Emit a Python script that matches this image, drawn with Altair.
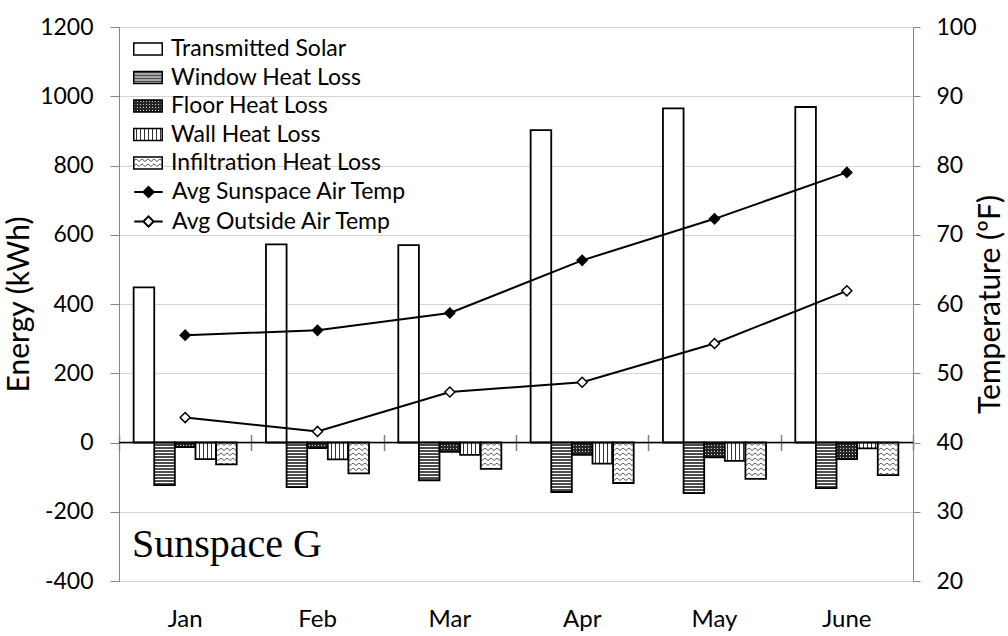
import altair as alt
import pandas as pd
import jinja2

# ---------------- data ----------------
months = ["Jan", "Feb", "Mar", "Apr", "May", "June"]
bar_series = ["Transmitted Solar", "Window Heat Loss", "Floor Heat Loss",
              "Wall Heat Loss", "Infiltration Heat Loss"]
transmitted_solar = [448, 572, 570, 902, 965, 969]
window_heat_loss = [-123, -129, -109, -143, -146, -132]
floor_heat_loss = [-13, -16, -27, -36, -43, -48]
wall_heat_loss = [-48, -49, -36, -61, -53, -17]
infiltration_heat_loss = [-63, -89, -76, -117, -105, -94]

temp_series = ["Avg Sunspace Air Temp", "Avg Outside Air Temp"]
sunspace_temp = [55.5, 56.2, 58.7, 66.3, 72.3, 79.0]
outside_temp = [43.6, 41.6, 47.3, 48.7, 54.3, 61.9]

energy_ticks = [-400, -200, 0, 200, 400, 600, 800, 1000, 1200]
temp_ticks = [20, 30, 40, 50, 60, 70, 80, 90, 100]
panel_name = ["Sunspace G"]

bar_values = [transmitted_solar, window_heat_loss, floor_heat_loss,
              wall_heat_loss, infiltration_heat_loss]
bar_df = pd.DataFrame([
    {"month": m, "series": s, "energy": v}
    for s, vals in zip(bar_series, bar_values)
    for m, v in zip(months, vals)
])
temp_df = pd.DataFrame([
    {"month": m, "series": s, "temp": v}
    for s, vals in zip(temp_series, [sunspace_temp, outside_temp])
    for m, v in zip(months, vals)
])
zero_df = pd.DataFrame({"energy": [0]})
label_df = pd.DataFrame({"name": panel_name})

# ---------------- styles ----------------
FONT = "Lato"
AXIS_GRAY = "#868686"
bar_fills = ["white", "url(#pWindow)", "url(#pFloor)", "url(#pWall)", "url(#pInfil)"]
RECT_SYMBOL = "M-1,-0.42H1V0.42H-1Z"
LINE_SYMBOL = "M-1,0H-0.36M0.36,0H1M0,-0.36L0.36,0L0,0.36L-0.36,0Z"

W, H = 794, 554
ZERO_FROM_TOP = H * 1200 / 1600
ZERO_FROM_BOTTOM = H - ZERO_FROM_TOP

x_sort = months

energy_axis = alt.Axis(
    values=energy_ticks, title="Energy (kWh)", orient="left",
    labelExpr="toString(datum.value)",
    labelFont=FONT, labelFontSize=23, labelColor="black", labelPadding=17,
    tickSize=9, tickColor=AXIS_GRAY, domainColor=AXIS_GRAY,
    grid=True, gridColor="#d4d4d4",
    titleFont=FONT, titleFontSize=30, titleFontWeight="normal",
    titleColor="black", titlePadding=5,
)
temp_axis = alt.Axis(
    values=temp_ticks, title="Temperature (ºF)", orient="right",
    labelExpr="toString(datum.value)",
    labelFont=FONT, labelFontSize=23, labelColor="black", labelPadding=16,
    tickSize=7, tickColor=AXIS_GRAY, domainColor=AXIS_GRAY, grid=False,
    titleFont=FONT, titleFontSize=30, titleFontWeight="normal",
    titleColor="black", titleAngle=270, titleBaseline="top", titlePadding=-1,
)
energy_scale = alt.Scale(domain=[-400, 1200], nice=False, zero=False)
temp_scale = alt.Scale(domain=[20, 100], nice=False, zero=False)

legend_common = dict(
    title=None, orient="none", legendX=14,
    labelFont=FONT, labelFontSize=23, labelColor="black",
    labelOffset=8, labelLimit=400, rowPadding=1.5, padding=0,
    symbolSize=812, symbolStrokeColor="black",
)

bars = alt.Chart(bar_df).mark_bar(stroke="black", strokeWidth=1.8).encode(
    x=alt.X("month:N", sort=x_sort,
            scale=alt.Scale(paddingInner=0, paddingOuter=0),
            axis=alt.Axis(title=None, labelAngle=0, labelFont=FONT,
                          labelFontSize=24, labelColor="black",
                          labelPadding=26, ticks=False, tickSize=0,
                          domain=False, grid=False)),
    xOffset=alt.XOffset("series:N", sort=bar_series,
                        scale=alt.Scale(domain=bar_series, paddingInner=0,
                                        paddingOuter=0.71)),
    y=alt.Y("energy:Q", scale=energy_scale, axis=energy_axis, stack=None),
    fill=alt.Fill("series:N", sort=bar_series,
                  scale=alt.Scale(domain=bar_series, range=bar_fills),
                  legend=alt.Legend(legendY=7, symbolType=RECT_SYMBOL,
                                    symbolStrokeWidth=1.5, **legend_common)),
)

zero_line = alt.Chart(zero_df).mark_rule(color="black", strokeWidth=1.5).encode(
    y=alt.Y("energy:Q", scale=energy_scale, axis=energy_axis),
)

panel_label = alt.Chart(label_df).mark_text(
    font="Liberation Serif", fontSize=40, color="black",
    align="left", baseline="alphabetic", dx=13,
).encode(
    x=alt.XDatum("Jan", type="nominal", bandPosition=0),
    y=alt.YDatum(-330, scale=energy_scale, axis=energy_axis),
    text="name:N",
)

energy_layer = alt.layer(bars, zero_line, panel_label)

lines = alt.Chart(temp_df).mark_line(color="black", strokeWidth=2).encode(
    x=alt.X("month:N", sort=x_sort,
            axis=alt.Axis(orient="bottom", offset=-ZERO_FROM_BOTTOM,
                          labels=False, domain=False, ticks=True,
                          tickBand="extent", tickSize=8, tickColor="#7f7f7f",
                          tickWidth=1.5, grid=False, title=None)),
    y=alt.Y("temp:Q", scale=temp_scale, axis=temp_axis),
    detail="series:N",
)

points = alt.Chart(temp_df).mark_point(
    shape="diamond", filled=True, size=100, stroke="black",
    strokeWidth=1.5, opacity=1,
).encode(
    x=alt.X("month:N", sort=x_sort,
            axis=alt.Axis(orient="top", offset=-ZERO_FROM_TOP,
                          labels=False, domain=False, ticks=True,
                          tickBand="extent", tickSize=8, tickColor="#7f7f7f",
                          tickWidth=1.5, grid=False, title=None)),
    y=alt.Y("temp:Q", scale=temp_scale, axis=temp_axis),
    fill=alt.Fill("series:N", sort=temp_series,
                  scale=alt.Scale(domain=temp_series, range=["black", "white"]),
                  legend=alt.Legend(legendY=149.5, symbolType=LINE_SYMBOL,
                                    symbolStrokeWidth=2, **legend_common)),
)

temp_layer = alt.layer(lines, points).resolve_axis(x="independent")

chart = (
    alt.layer(energy_layer, temp_layer)
    .resolve_scale(y="independent", fill="independent")
    .resolve_axis(x="independent", y="independent")
    .resolve_legend(fill="independent")
    .properties(
        width=W, height=H,
        autosize=alt.AutoSizeParams(type="none"),
        padding={"left": 119, "top": 27, "right": 95, "bottom": 55},
        background="white",
    )
    .configure_view(stroke="#898989", strokeWidth=1)
)

# page template: the standard one plus the hatch patterns used as bar fills
TEMPLATE = jinja2.Template("""<!DOCTYPE html>
<html>
<head>
  <meta charset="utf-8">
  <style>
    #{{ output_div }}.vega-embed { width: 100%; display: flex; }
    #{{ output_div }}.vega-embed details,
    #{{ output_div }}.vega-embed details summary { position: relative; }
  </style>
  <script type="text/javascript" src="{{ base_url }}/vega@{{ vega_version }}"></script>
  <script type="text/javascript" src="{{ base_url }}/vega-lite@{{ vegalite_version }}"></script>
  <script type="text/javascript" src="{{ base_url }}/vega-embed@{{ vegaembed_version }}"></script>
</head>
<body>
  <svg width="0" height="0" style="position:absolute;left:0;top:0" aria-hidden="true">
    <defs>
      <pattern id="pWindow" patternUnits="userSpaceOnUse" width="8" height="3">
        <rect width="8" height="3" fill="#4d4d4d"/>
        <rect y="2" width="8" height="1" fill="#ffffff"/>
      </pattern>
      <pattern id="pFloor" patternUnits="userSpaceOnUse" width="3" height="3">
        <rect width="3" height="3" fill="#262626"/>
        <rect x="1" y="1" width="1" height="1" fill="#d0d0d0"/>
      </pattern>
      <pattern id="pWall" patternUnits="userSpaceOnUse" width="4" height="4">
        <rect width="4" height="4" fill="#ffffff"/>
        <rect width="1" height="4" fill="#333333"/>
      </pattern>
      <pattern id="pInfil" patternUnits="userSpaceOnUse" width="6" height="5">
        <rect width="6" height="5" fill="#ffffff"/>
        <path d="M0,1 L3,3.5 L6,1" fill="none" stroke="#5a5a5a" stroke-width="1"/>
      </pattern>
    </defs>
  </svg>
  <div id="{{ output_div }}"></div>
  <script>
    var spec = {{ spec }};
    var embedOpt = {{ embed_options }};
    vegaEmbed("#{{ output_div }}", spec, embedOpt).catch(function (err) {
      document.getElementById("{{ output_div }}").innerHTML = "<pre>" + err + "</pre>";
    });
  </script>
</body>
</html>
""")

chart.save("out.html", embed_options={"renderer": "svg", "actions": False},
           template=TEMPLATE)
